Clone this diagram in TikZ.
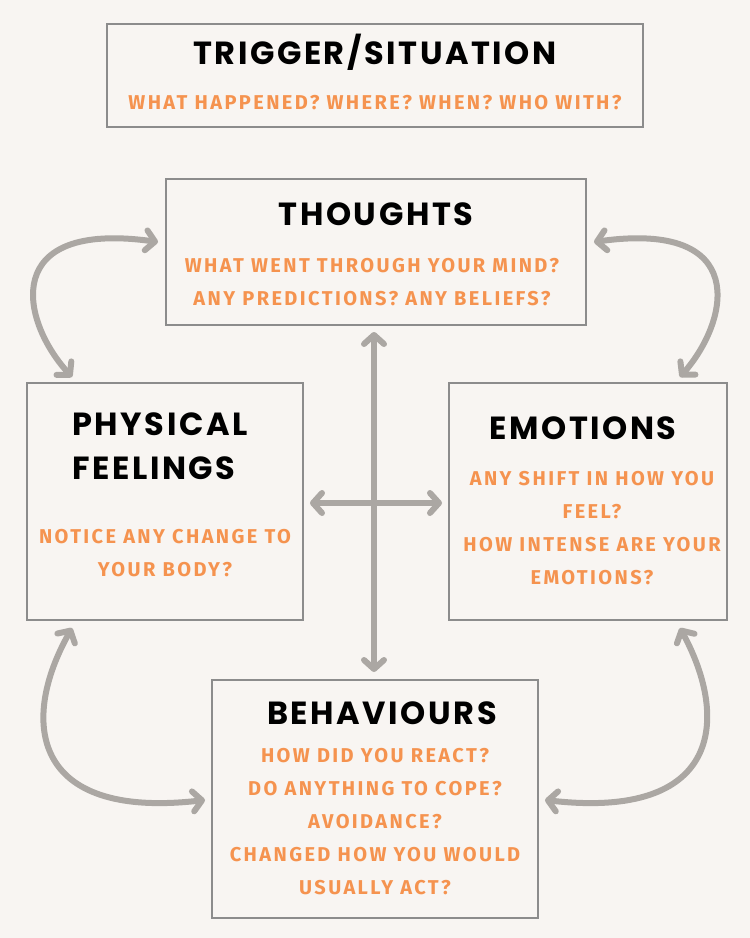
\documentclass[tikz,border=0pt]{standalone}
\usepackage{fontspec}
\setmainfont{Fira Sans}[LetterSpace=12]
\newfontfamily\titlefont{Poppins}[LetterSpace=8]
\usetikzlibrary{arrows.meta}
\definecolor{bg}{HTML}{F8F5F2}
\definecolor{bx}{HTML}{8C8C8C}
\definecolor{org}{HTML}{F5934F}
\definecolor{arr}{HTML}{ABA7A3}
\tikzset{
  box/.style={draw=bx,line width=1.2pt,fill=bg},
  ttl/.style={font=\titlefont\bfseries\fontsize{32}{44}\selectfont,text=black,align=center},
  sub/.style={font=\bfseries\fontsize{20}{33}\selectfont,text=org,align=center},
  ar/.style={draw=arr,line width=6pt,line cap=round,{Straight Barb[length=9pt,width=20pt,line width=6pt,round]}-{Straight Barb[length=9pt,width=20pt,line width=6pt,round]}}
}
\begin{document}
\begin{tikzpicture}[x=1pt,y=-1pt]
\useasboundingbox (0,0) rectangle (750,938);
\fill[bg] (0,0) rectangle (750,938);
\draw[box] (107,24) rectangle (643,127);
\node[ttl] (tt) at (375,52) {TRIGGER/SITUATION};
\node[sub] (ts) at (375,103) {WHAT HAPPENED? WHERE? WHEN? WHO WITH?};
\draw[box] (166,179) rectangle (586,325);
\node[ttl] (ht) at (376,214) {THOUGHTS};
\node[sub] (hs) at (372,282) {WHAT WENT THROUGH YOUR MIND?\\ANY PREDICTIONS? ANY BELIEFS?};
\draw[box] (27,383) rectangle (303,620);
\node[ttl,align=left] (pt) at (160,446) {PHYSICAL\\FEELINGS};
\node[sub] (ps) at (165,553) {NOTICE ANY CHANGE TO\\YOUR BODY?};
\draw[box] (449,383) rectangle (727,620);
\node[ttl] (et) at (583,428) {EMOTIONS};
\node[sub] (es) at (592,528) {ANY SHIFT IN HOW YOU\\FEEL?\\HOW INTENSE ARE YOUR\\EMOTIONS?};
\draw[box] (212,680) rectangle (538,918);
\node[ttl] (bt) at (382,713) {BEHAVIOURS};
\node[sub] (bs) at (375,822) {HOW DID YOU REACT?\\DO ANYTHING TO COPE?\\AVOIDANCE?\\CHANGED HOW YOU WOULD\\USUALLY ACT?};
\coordinate (v1) at (374,332); \coordinate (v2) at (374,672);
\coordinate (h1) at (310,503); \coordinate (h2) at (442,503);
\draw[ar] (v1) -- (v2);
\draw[ar] (h1) -- (h2);
\coordinate (a1) at (158,242); \coordinate (a2) at (72,377);
\draw[ar] (a1) .. controls (0,220) and (20,320) .. (a2);
\coordinate (b1) at (594,242); \coordinate (b2) at (680,377);
\draw[ar] (b1) .. controls (750,220) and (730,320) .. (b2);
\coordinate (c1) at (72,628); \coordinate (c2) at (205,800);
\draw[ar] (c1) .. controls (20,720) and (30,820) .. (c2);
\coordinate (d1) at (680,628); \coordinate (d2) at (545,800);
\draw[ar] (d1) .. controls (730,720) and (720,820) .. (d2);
\end{tikzpicture}
\end{document}
